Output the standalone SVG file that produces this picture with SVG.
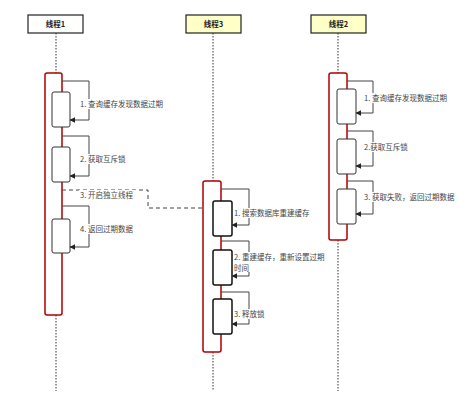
<svg xmlns="http://www.w3.org/2000/svg" width="474" height="405" viewBox="0 0 474 405">
<style>
.hdr{stroke:#222;stroke-width:1.2}
.hdrt{font-family:"Noto Sans CJK SC","Liberation Sans",sans-serif;font-size:7.5px;fill:#222;text-anchor:middle;font-weight:bold}
.life{stroke:#333;stroke-width:1;stroke-dasharray:1.5 1.5;fill:none}
.act{fill:#fff;stroke:#b00000;stroke-width:1.5}
.box{fill:#fff;stroke:#333;stroke-width:1}
.box2{fill:#fff;stroke:#111;stroke-width:1.5}
.loop{fill:none;stroke:#444;stroke-width:1}
.dash{fill:none;stroke:#444;stroke-width:1;stroke-dasharray:4 3}
.lbl{font-family:"Noto Sans CJK SC","Liberation Sans",sans-serif;font-size:7.5px;fill:#444}
.bg{fill:#fff}
</style>
<defs>
<marker id="ah" viewBox="0 0 10 10" refX="9" refY="5" markerWidth="6" markerHeight="6" orient="auto-start-reverse" markerUnits="userSpaceOnUse">
<path d="M0,0 L10,5 L0,10 z" fill="#222"/>
</marker>
</defs>
<rect width="474" height="405" fill="#fff"/>

<g id="lifelines">
<line class="life" x1="56" y1="33" x2="56" y2="73"/>
<line class="life" x1="56" y1="315" x2="56" y2="391"/>
<line class="life" x1="213" y1="33" x2="213" y2="181"/>
<line class="life" x1="213" y1="352" x2="213" y2="391"/>
<line class="life" x1="338" y1="33" x2="338" y2="73"/>
<line class="life" x1="338" y1="240" x2="338" y2="391"/>
</g>

<g id="thread1">
<rect class="hdr" x="28" y="15" width="55" height="18" fill="#fff"/>
<text class="hdrt" x="55.5" y="27">线程1</text>
<rect class="act" x="45" y="73" width="17" height="242" rx="2"/>
<rect class="box" x="52" y="92" width="18" height="35" rx="2"/>
<rect class="box" x="52" y="147" width="18" height="35" rx="2"/>
<rect class="box" x="52" y="219" width="18" height="34" rx="2"/>
</g>

<g id="thread3">
<rect class="hdr" x="186" y="15" width="55" height="18" fill="#ffffc8"/>
<text class="hdrt" x="213.5" y="27">线程3</text>
<rect class="act" x="203" y="181" width="18" height="171" rx="2"/>
<rect class="box2" x="213" y="201" width="19" height="35" rx="2"/>
<rect class="box2" x="213" y="250" width="19" height="35" rx="2"/>
<rect class="box2" x="213" y="299" width="19" height="35" rx="2"/>
</g>

<g id="thread2">
<rect class="hdr" x="311" y="15" width="55" height="18" fill="#ffffc8"/>
<text class="hdrt" x="338.5" y="27">线程2</text>
<rect class="act" x="329" y="73" width="18" height="167" rx="2"/>
<rect class="box" x="337" y="89" width="19" height="35" rx="2"/>
<rect class="box" x="337" y="139" width="19" height="35" rx="2"/>
<rect class="box" x="337" y="189" width="19" height="35" rx="2"/>
</g>

<g id="connectors">
<path class="loop" d="M62,81 H89 V120 H70" marker-end="url(#ah)"/>
<path class="loop" d="M62,136 H89 V176 H70" marker-end="url(#ah)"/>
<path class="dash" d="M62,190 H148 V208 H203"/>
<path class="loop" d="M62,206 H89 V247 H70" marker-end="url(#ah)"/>

<path class="loop" d="M221,189 H249 V225 H232" marker-end="url(#ah)"/>
<path class="loop" d="M221,241 H249 V276 H232" marker-end="url(#ah)"/>
<path class="loop" d="M221,292 H249 V324 H232" marker-end="url(#ah)"/>

<path class="loop" d="M347,81 H373 V113 H356" marker-end="url(#ah)"/>
<path class="loop" d="M347,131 H373 V166 H356" marker-end="url(#ah)"/>
<path class="loop" d="M347,181 H373 V214 H356" marker-end="url(#ah)"/>
</g>

<g id="labels">
<rect class="bg" x="79" y="99" width="87" height="10"/>
<text class="lbl" x="80" y="107">1. 查询缓存发现数据过期</text>
<rect class="bg" x="79" y="154" width="51" height="10"/>
<text class="lbl" x="80" y="162">2. 获取互斥锁</text>
<rect class="bg" x="79" y="190" width="58" height="10"/>
<text class="lbl" x="80" y="198">3. 开启独立线程</text>
<rect class="bg" x="79" y="224" width="58" height="10"/>
<text class="lbl" x="80" y="232">4. 返回过期数据</text>

<rect class="bg" x="233" y="208" width="81" height="10"/>
<text class="lbl" x="234" y="216">1. 搜索数据库重建缓存</text>
<rect class="bg" x="233" y="252" width="96" height="20"/>
<text class="lbl" x="234" y="260">2. 重建缓存，重新设置过期</text>
<text class="lbl" x="234" y="270.5">时间</text>
<rect class="bg" x="233" y="309" width="33" height="10"/>
<text class="lbl" x="234" y="317">3. 释放锁</text>

<rect class="bg" x="363" y="93" width="87" height="10"/>
<text class="lbl" x="364" y="101">1. 查询缓存发现数据过期</text>
<rect class="bg" x="363" y="142" width="48" height="10"/>
<text class="lbl" x="364" y="150">2.获取互斥锁</text>
<rect class="bg" x="363" y="192" width="96" height="10"/>
<text class="lbl" x="364" y="200">3. 获取失败，返回过期数据</text>
</g>
</svg>
